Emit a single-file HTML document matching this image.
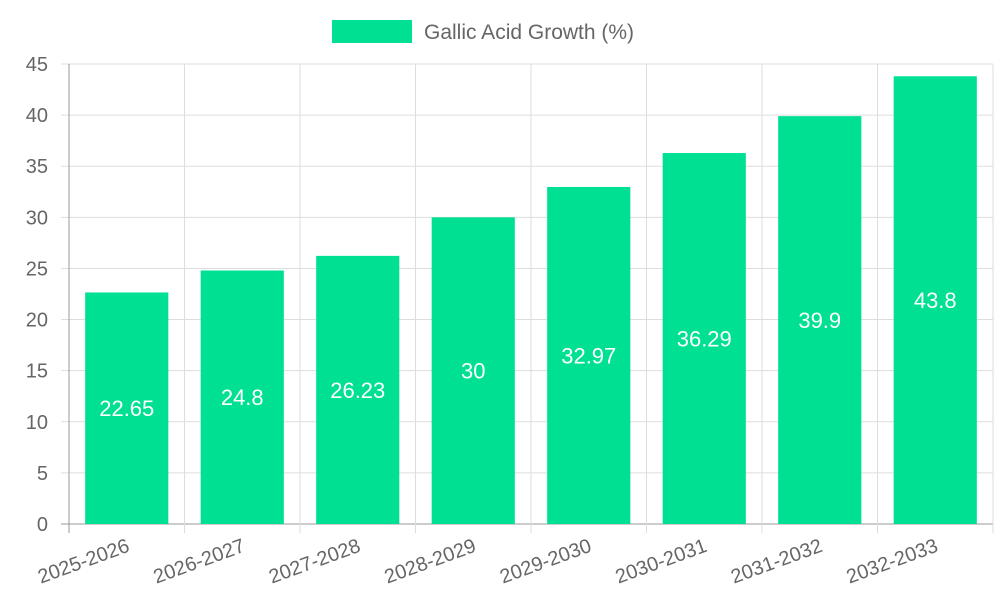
<!DOCTYPE html>
<html><head><meta charset="utf-8"><style>
html,body{margin:0;padding:0;background:#fff;}
svg{display:block;font-family:"Liberation Sans",sans-serif;}
</style></head><body>
<svg id="chart" width="1000" height="600">
<g id="grid"></g><g id="bars"></g><g id="labels"></g>
<g>
<rect x="332" y="20" width="80" height="23" fill="#00e093"></rect>
<text x="424" y="39" font-size="21" fill="#666">Gallic Acid Growth (%)</text>
</g>
</svg>
<script>
const categories=["2025-2026","2026-2027","2027-2028","2028-2029","2029-2030","2030-2031","2031-2032","2032-2033"];
const values=[22.65,24.8,26.23,30,32.97,36.29,39.9,43.8];
const yTicks=[0,5,10,15,20,25,30,35,40,45];
const X0=69,X1=993,Y0=524,Y1=64,YMAX=45;
const NS="http://www.w3.org/2000/svg";
const bw=(X1-X0)/categories.length;
const y=v=>Y0-(Y0-Y1)*v/YMAX;
const xc=i=>X0+bw*(i+0.5);
function mk(tag,attrs,parent){const e=document.createElementNS(NS,tag);for(const k in attrs)e.setAttribute(k,attrs[k]);parent.appendChild(e);return e;}
const grid=document.getElementById('grid'),bars=document.getElementById('bars'),labels=document.getElementById('labels');
yTicks.forEach(t=>{
  const l=mk('line',{x1:X0-8,x2:X1,y1:y(t),y2:y(t),stroke:t===0?'#999':'#ddd','stroke-width':1},grid);
  
  
  const tx=mk('text',{x:X0-21,y:y(t)+7,'text-anchor':'end','font-size':20,fill:'#666'},grid);
  tx.textContent=t;
  
  
});
for(let i=0;i<=categories.length;i++){
  const gx=X0+bw*i;
  const l=mk('line',{x1:gx,x2:gx,y1:Y1,y2:Y0+9,stroke:i===0?'#999':'#ddd','stroke-width':1},grid);
  
  
}
categories.forEach((c,i)=>{
  const w=bw*0.72;
  const r=mk('rect',{x:xc(i)-w/2,y:y(values[i]),width:w,height:Y0-y(values[i]),fill:'#00e093'},bars);
  
  
  const v=mk('text',{x:xc(i),y:(y(values[i])+Y0)/2+8,'text-anchor':'middle','font-size':22,fill:'#fff'},labels);
  v.textContent=values[i];
  
  
  const t=mk('text',{x:0,y:0,'text-anchor':'end','font-size':20,fill:'#666',transform:`translate(${xc(i)+4},${Y0+27}) rotate(-20)`},labels);
  t.textContent=c;
  
  
});
</script>
</body></html>
